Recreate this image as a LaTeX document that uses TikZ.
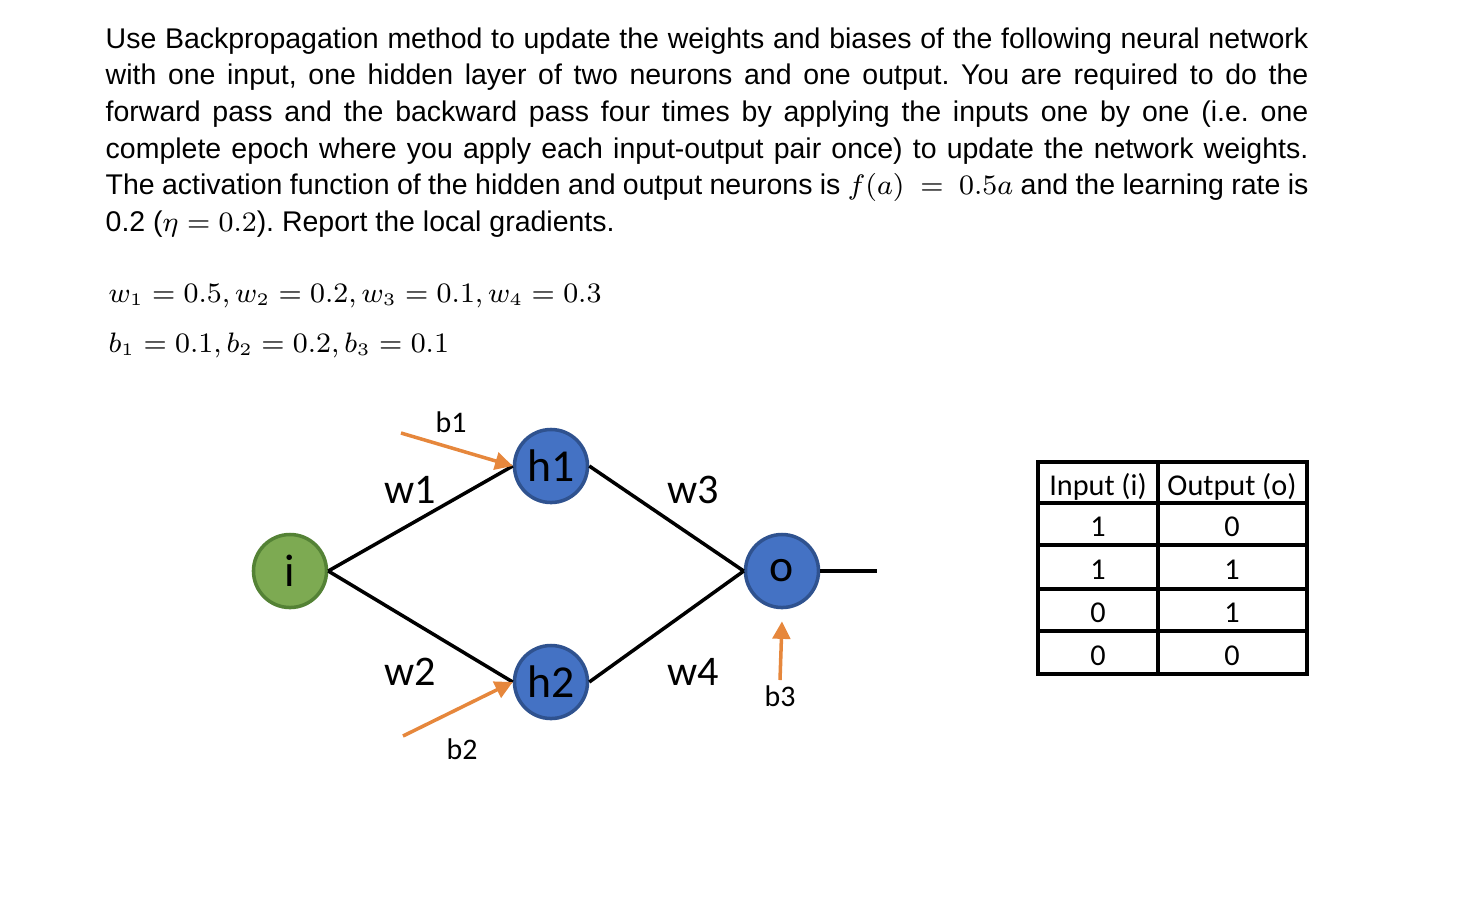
\documentclass[tikz,border=0pt]{standalone}
\usepackage{fontspec}
\setmainfont{Liberation Sans}
\newfontfamily\carl{Carlito}
\usetikzlibrary{arrows.meta}
\frenchspacing
\begin{document}
\begin{tikzpicture}[x=0.01cm,y=-0.01cm,
  green/.style={circle,draw={rgb,255:red,84;green,130;blue,53},line width=1pt,fill={rgb,255:red,125;green,170;blue,82},minimum size=0.73cm,inner sep=0pt,font=\carl\fontsize{13}{13}\selectfont},
  blue/.style={circle,draw={rgb,255:red,47;green,82;blue,143},line width=1pt,fill={rgb,255:red,68;green,114;blue,196},minimum size=0.73cm,inner sep=0pt,font=\carl\fontsize{13}{13}\selectfont},
  edge/.style={line width=1pt,black},
  bias/.style={line width=1pt,draw={rgb,255:red,230;green,135;blue,60},-{Triangle[length=5pt,width=5pt]}},
  lbl/.style={font=\carl\fontsize{12}{12}\selectfont},
  blbl/.style={font=\carl\fontsize{8.5}{8.5}\selectfont},
  cell/.style={font=\carl\fontsize{8.6}{8.6}\selectfont}]
\useasboundingbox (0,0) rectangle (1464,896);
% problem text
\node[anchor=north west,inner sep=0pt,text width=12.02cm,align=justify,font=\fontsize{8.1}{10.4}\selectfont] (txt) at (105,27)
{Use Backpropagation method to update the weights and biases of the following neural network with one input, one hidden layer of two neurons and one output. You are required to do the forward pass and the backward pass four times by applying the inputs one by one (i.e. one complete epoch where you apply each input-output pair once) to update the network weights. The activation function of the hidden and output neurons is $f(a)\ =\ 0.5a$ and the learning rate is 0.2 ($\eta=0.2$). Report the local gradients.};
\node[anchor=west,inner sep=0pt,font=\fontsize{7.8}{7.8}\selectfont] (eq1) at (108,296) {$w_1=0.5, w_2=0.2, w_3=0.1, w_4=0.3$};
\node[anchor=west,inner sep=0pt,font=\fontsize{7.8}{7.8}\selectfont] (eq2) at (108,345) {$b_1=0.1, b_2=0.2, b_3=0.1$};
% network
\node[green] (i) at (290,571) {i};
\node[blue] (h1) at (551,466) {h1};
\node[blue] (h2) at (551,682) {h2};
\node[blue] (o) at (782,571) {o};
\coordinate (out) at (877,571);
\coordinate (b1s) at (401,433);
\coordinate (b2s) at (403,736);
\coordinate (b3s) at (780,680);
\draw[edge] (i.east) -- (h1.west);
\draw[edge] (i.east) -- (h2.west);
\draw[edge] (h1.east) -- (o.west);
\draw[edge] (h2.east) -- (o.west);
\draw[edge] (o.east) -- (out);
\draw[bias] (b1s) -- (h1.west);
\draw[bias] (b2s) -- (h2.west);
\draw[bias] (b3s) -- ([yshift=-0.12cm]o.south);
\node[lbl] (lw1) at (410,490) {w1};
\node[lbl] (lw2) at (410,672) {w2};
\node[lbl] (lw3) at (693,490) {w3};
\node[lbl] (lw4) at (693,672) {w4};
\node[blbl] (lb1) at (451,422) {b1};
\node[blbl] (lb2) at (462,749) {b2};
\node[blbl] (lb3) at (780,696) {b3};
% table
\draw[line width=1pt] (1038,462) rectangle (1307,674);
\draw[line width=1pt] (1158,462) -- (1158,674);
\foreach \y in {503,545,589,631} \draw[line width=1pt] (1038,\y) -- (1307,\y);
\node[cell] (t0a) at (1098,487) {Input (i)};
\node[cell] (t0b) at (1232,487) {Output (o)};
\node[cell] (t1a) at (1098,527) {1};
\node[cell] (t1b) at (1232,527) {0};
\node[cell] (t2a) at (1098,570) {1};
\node[cell] (t2b) at (1232,570) {1};
\node[cell] (t3a) at (1098,613) {0};
\node[cell] (t3b) at (1232,613) {1};
\node[cell] (t4a) at (1098,656) {0};
\node[cell] (t4b) at (1232,656) {0};
\end{tikzpicture}
\end{document}
